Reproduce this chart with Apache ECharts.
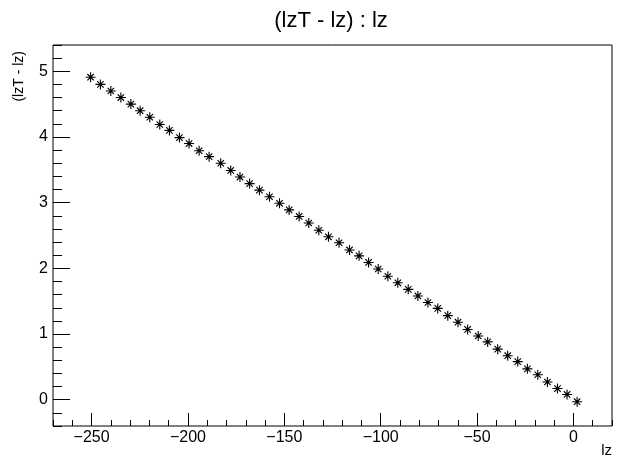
<!DOCTYPE html>
<html>
<head>
<meta charset="utf-8">
<script src="https://cdn.jsdelivr.net/npm/echarts@6/dist/echarts.min.js"></script>
<style>html,body{margin:0;padding:0;background:#fff;}#c{width:627px;height:467px;}</style>
</head>
<body>
<div id="c"></div>
<script>
// lz values (x)
const lzValues = [
  -250.5, -245.4, -240.0, -234.8, -229.6, -224.8, -219.8, -214.6, -209.6, -204.4, -199.4, -194.2, -189.0,
  -183.0, -177.8, -173.0, -168.0, -162.9, -157.7, -152.5, -147.5, -142.3, -137.3, -132.1, -127.1,
  -121.6, -116.2, -111.2, -106.3, -101.3, -96.3, -91.1, -85.7, -80.7, -75.5, -70.4, -65.2,
  -59.9, -54.9, -49.4, -44.5, -39.3, -34.1, -28.9, -23.9, -18.5, -13.5, -8.3, -3.3, 1.9
];
// (lzT - lz) values (y)
const diffValues = [
  4.91, 4.80, 4.70, 4.60, 4.50, 4.40, 4.30, 4.19, 4.10, 3.99, 3.90, 3.79, 3.70,
  3.60, 3.49, 3.39, 3.29, 3.19, 3.09, 2.99, 2.89, 2.79, 2.69, 2.58, 2.48,
  2.39, 2.28, 2.19, 2.09, 1.99, 1.88, 1.78, 1.68, 1.58, 1.48, 1.39, 1.28,
  1.18, 1.07, 0.97, 0.88, 0.77, 0.67, 0.58, 0.47, 0.38, 0.27, 0.17, 0.08, -0.03
];
const titleText = '(lzT - lz) : lz';
const xName = 'lz';
const yName = '(lzT - lz)';

const FONT = 'Liberation Sans, Arial, Helvetica, sans-serif';
const asterisk = 'path://M0,4.45L10,4.45L10,5.55L0,5.55Z M4.45,0L5.55,0L5.55,10L4.45,10Z M1.4,2.2L2.2,1.4L8.6,7.8L7.8,8.6Z M7.8,1.4L8.6,2.2L2.2,8.6L1.4,7.8Z M3.5,3.5L6.5,3.5L6.5,6.5L3.5,6.5Z';

const points = lzValues.map((x, i) => [x, diffValues[i]]);
const fmtMinus = v => (v < 0 ? '\u2212' + Math.abs(v) : String(v));

const chart = echarts.init(document.getElementById('c'), null, {renderer: 'canvas'});
chart.setOption({
  animation: false,
  backgroundColor: '#fff',
  title: {
    text: titleText, left: 331, top: 10, textAlign: 'center', padding: 0,
    textStyle: {fontFamily: FONT, fontSize: 22, fontWeight: 'normal', color: '#000'}
  },
  graphic: [{
    type: 'text', x: 19, y: 51, rotation: Math.PI / 2,
    style: {text: yName, fontFamily: FONT, fontSize: 14, fill: '#000', align: 'right', verticalAlign: 'middle'}
  }],
  grid: {left: 53, right: 15, top: 45, bottom: 41, show: true, borderColor: '#000', borderWidth: 1, backgroundColor: 'transparent'},
  xAxis: [{
    type: 'value', position: 'bottom', min: -270, max: 20, splitNumber: 5,
    name: xName, nameLocation: 'end', nameGap: 0,
    nameTextStyle: {fontFamily: FONT, fontSize: 15, color: '#000', align: 'right', verticalAlign: 'top', padding: [17, 0, 0, 0]},
    axisLine: {show: false, onZero: false},
    axisTick: {show: true, inside: true, length: 13, lineStyle: {color: '#000', width: 1}},
    axisLabel: {show: true, margin: 4, color: '#000', fontFamily: FONT, fontSize: 16, showMinLabel: false, showMaxLabel: false, formatter: fmtMinus},
    splitLine: {show: false}
  }, {
    type: 'value', position: 'bottom', min: -270, max: 20, interval: 10,
    axisLine: {show: false, onZero: false},
    axisTick: {show: true, inside: true, length: 6, lineStyle: {color: '#000', width: 1}},
    axisLabel: {show: false},
    splitLine: {show: false}
  }],
  yAxis: [{
    type: 'value', position: 'left', min: -0.4, max: 5.4, splitNumber: 5,
    axisLine: {show: false, onZero: false},
    axisTick: {show: true, inside: true, length: 17, lineStyle: {color: '#000', width: 1}},
    axisLabel: {show: true, margin: 5, color: '#000', fontFamily: FONT, fontSize: 16, showMinLabel: false, showMaxLabel: false, formatter: fmtMinus},
    splitLine: {show: false}
  }, {
    type: 'value', position: 'left', min: -0.4, max: 5.4, interval: 0.2,
    axisLine: {show: false, onZero: false},
    axisTick: {show: true, inside: true, length: 9, lineStyle: {color: '#000', width: 1}},
    axisLabel: {show: false},
    splitLine: {show: false}
  }],
  series: [{
    type: 'scatter', xAxisIndex: 0, yAxisIndex: 0,
    data: points, symbol: asterisk, symbolSize: 10,
    itemStyle: {color: '#000', opacity: 1}
  }]
});
</script>
</body>
</html>
